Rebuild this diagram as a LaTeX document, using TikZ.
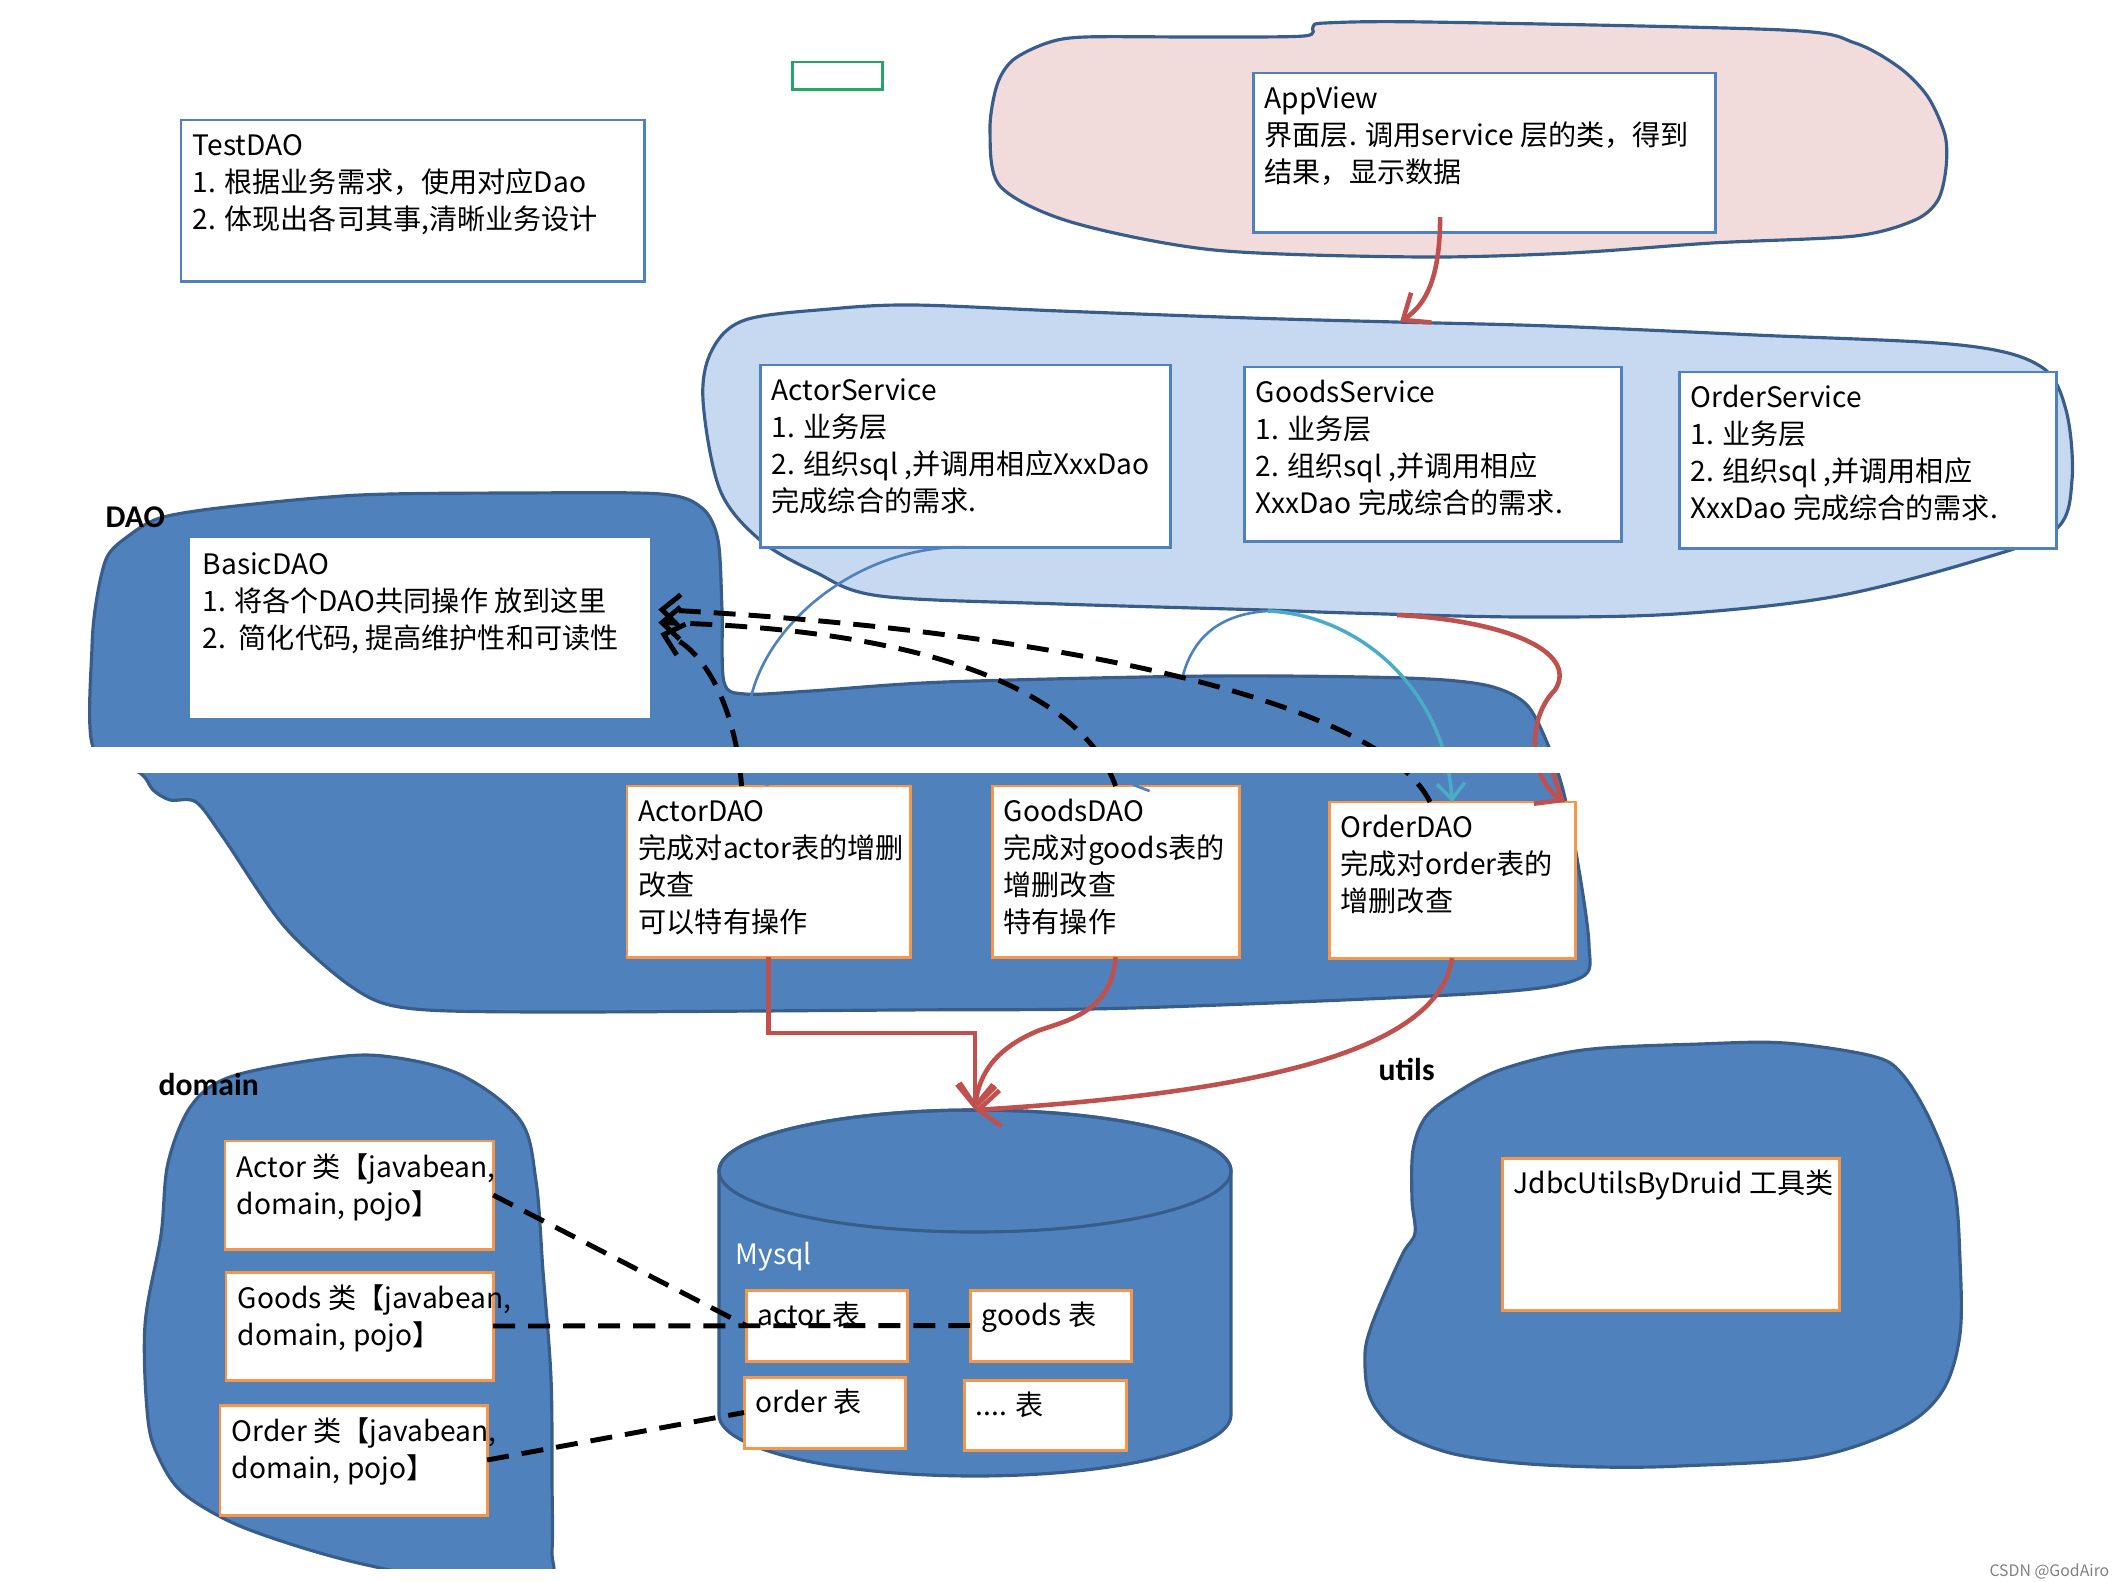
\documentclass[tikz,border=0pt]{standalone}
\usepackage{fontspec}
\setmainfont{Noto Sans CJK SC}
\newfontfamily\labelfont{Carlito}
\usepackage{tikz}
\usetikzlibrary{arrows.meta}
\definecolor{BlobLine}{HTML}{385D8A}
\definecolor{DaoFill}{HTML}{4F81BD}
\definecolor{SvcFill}{HTML}{C6D9F1}
\definecolor{ViewFill}{HTML}{F2DCDB}
\definecolor{BoxBlue}{HTML}{4F81BD}
\definecolor{BoxOrange}{HTML}{F79646}
\definecolor{LinkRed}{HTML}{C0504D}
\definecolor{LinkTeal}{HTML}{4BACC6}
\definecolor{MarkGreen}{HTML}{24A665}
\tikzset{
  bluebox/.style={draw=BoxBlue,line width=0.85pt,fill=white,anchor=north west,inner sep=0pt,outer sep=0pt},
  orangebox/.style={bluebox,draw=BoxOrange},
  whitebox/.style={bluebox,draw=white},
  boxtext/.style={anchor=north west,inner sep=0pt,align=left,font=\fontsize{8}{10.5}\selectfont},
  grouplabel/.style={anchor=west,inner sep=0pt,font=\labelfont\bfseries\fontsize{9}{11}\selectfont},
  blob/.style={draw=BlobLine,line width=0.9pt,fill=DaoFill},
  redarrow/.style={-{Straight Barb[length=2.2mm,width=3.6mm]},line width=1.3pt,draw=LinkRed},
  bluearc/.style={-{Straight Barb[length=1.2mm,width=2.2mm]},line width=0.75pt,draw=BoxBlue},
  tealarc/.style={-{Straight Barb[length=1.6mm,width=2.8mm]},line width=1pt,draw=LinkTeal},
  dashlink/.style={line width=1.4pt,dash pattern=on 0.22cm off 0.13cm},
  dasharrow/.style={dashlink,-{Straight Barb[length=1.8mm,width=3.2mm]}}
}

\begin{document}
\begin{tikzpicture}[x=0.01cm,y=-0.01cm]
  \useasboundingbox (0,0) rectangle (2117,1582);

  \draw[blob,fill=ViewFill] plot[smooth cycle,tension=0.5] coordinates {
    (997,85) (1013,60) (1047,43) (1085,37) (1200,37) (1304,36) (1313,27) (1325,23)
    (1427,22) (1783,30) (1855,43) (1900,68) (1928,97) (1945,135) (1946,168)
    (1938,200) (1915,220) (1855,236) (1712,243) (1570,253) (1420,257) (1214,250)
    (1071,222) (1000,186) (990,130)};
  \draw[blob,fill=SvcFill] plot[smooth cycle,tension=0.55] coordinates {
    (703,400) (712,350) (745,320) (830,309) (913,305) (1060,311) (1250,318) (1395,322)
    (1550,326) (1755,335) (1960,345) (2040,366) (2066,410) (2072,480) (2055,530)
    (1971,562) (1832,597) (1676,614) (1521,617) (1350,613) (1265,610) (1060,604)
    (880,596) (815,572) (760,540) (720,490)};
  \draw[blob] plot[smooth cycle,tension=0.5] coordinates {
    (160,518) (227,507) (360,495) (520,493) (661,494) (702,508) (718,540) (722,610)
    (724,682) (745,694) (811,691) (945,682) (1211,676) (1405,678) (1485,685)
    (1525,703) (1546,740) (1563,790) (1578,864) (1589,945) (1580,978) (1485,993)
    (1133,1008) (900,1010) (540,1012) (406,1008) (352,987) (284,926) (223,837)
    (196,802) (170,800) (153,790) (140,773) (93,747) (92,647) (97,597) (107,557)
    (127,537)};
  \begin{scope}
    \clip (0,0) rectangle (2117,1568);
    \draw[blob] plot[smooth cycle,tension=0.55] coordinates {
      (383,1056) (459,1074) (520,1120) (536,1181) (543,1271) (551,1378) (552,1480)
      (552,1550) (545,1578) (450,1580) (367,1565) (300,1547) (233,1523) (183,1493)
      (160,1460) (148,1420) (145,1325) (161,1235) (168,1163) (191,1106) (230,1077)
      (321,1059)};
  \end{scope}
  \draw[blob] plot[smooth cycle,tension=0.55] coordinates {
    (1583,1050) (1700,1044) (1785,1043) (1872,1056) (1902,1074) (1931,1122)
    (1954,1186) (1960,1260) (1960,1334) (1943,1390) (1902,1427) (1814,1457)
    (1680,1466) (1600,1467) (1517,1463) (1450,1453) (1400,1433) (1377,1410)
    (1367,1387) (1365,1353) (1370,1330) (1383,1297) (1403,1253) (1415,1233)
    (1412,1200) (1413,1150) (1425,1118) (1450,1097) (1500,1070)};
  \draw[blob] (719,1171) -- (719,1415)
    arc[start angle=180,end angle=0,x radius=256,y radius=61] -- (1231,1171)
    arc[start angle=0,end angle=-180,x radius=256,y radius=61] -- cycle;
  \draw[draw=BlobLine,line width=0.9pt] (975,1171) ellipse[x radius=256,y radius=61];
  \coordinate (dbtop) at (975,1110);

  \node[bluebox,draw=MarkGreen,fill=none,minimum width=0.9cm,minimum height=0.27cm] (greenmark) at (792,62) {};

  \node[bluebox,minimum width=4.63cm,minimum height=1.61cm] (testdao) at (181,120) {};
  \node[boxtext] (testdao-t) at ([shift={(11,9)}]testdao.north west)
    {\strut TestDAO\\1. 根据业务需求，使用对应Dao\\2. 体现出各司其事,清晰业务设计};

  \node[bluebox,minimum width=4.62cm,minimum height=1.59cm] (appview) at (1253,73) {};
  \node[boxtext] (appview-t) at ([shift={(11,9)}]appview.north west)
    {\strut AppView\\界面层. 调用service 层的类，得到\\结果，显示数据};

  \node[bluebox,minimum width=4.10cm,minimum height=1.82cm] (actorsvc) at (760,365) {};
  \node[boxtext] (actorsvc-t) at ([shift={(11,9)}]actorsvc.north west)
    {\strut ActorService\\1. 业务层\\2. 组织sql ,并调用相应XxxDao\\完成综合的需求.};
  \node[bluebox,minimum width=3.77cm,minimum height=1.74cm] (goodssvc) at (1244,367) {};
  \node[boxtext] (goodssvc-t) at ([shift={(11,9)}]goodssvc.north west)
    {\strut GoodsService\\1. 业务层\\2. 组织sql ,并调用相应\\XxxDao 完成综合的需求.};
  \node[bluebox,minimum width=3.77cm,minimum height=1.76cm] (ordersvc) at (1679,372) {};
  \node[boxtext] (ordersvc-t) at ([shift={(11,9)}]ordersvc.north west)
    {\strut OrderService\\1. 业务层\\2. 组织sql ,并调用相应\\XxxDao 完成综合的需求.};

  \node[whitebox,minimum width=4.57cm,minimum height=1.77cm] (basicdao) at (191,539) {};
  \node[boxtext] (basicdao-t) at ([shift={(11,9)}]basicdao.north west)
    {\strut BasicDAO\\1. 将各个DAO共同操作 放到这里\\2.\ \ 简化代码, 提高维护性和可读性};

  \node[orangebox,minimum width=2.83cm,minimum height=1.71cm] (actordao) at (627,786) {};
  \node[boxtext] (actordao-t) at ([shift={(11,9)}]actordao.north west)
    {\strut ActorDAO\\完成对actor表的增删\\改查\\可以特有操作};
  \node[orangebox,minimum width=2.47cm,minimum height=1.71cm] (goodsdao) at (992,786) {};
  \node[boxtext] (goodsdao-t) at ([shift={(11,9)}]goodsdao.north west)
    {\strut GoodsDAO\\完成对goods表的\\增删改查\\特有操作};
  \node[orangebox,minimum width=2.46cm,minimum height=1.56cm] (orderdao) at (1329,802) {};
  \node[boxtext] (orderdao-t) at ([shift={(11,9)}]orderdao.north west)
    {\strut OrderDAO\\完成对order表的\\增删改查};

  \coordinate (svctop) at (1400,322);
  \coordinate (svcfork) at (1268,611);
  \coordinate (svcred) at (1397,615);
  \draw[redarrow] ([xshift=-0.44cm,yshift=0.15cm]appview.south) .. controls (1440,280) and (1425,305) .. (svctop);
  \draw[bluearc] (actorsvc.south) .. controls (820,545) and (700,690) .. (actordao.north);
  \draw[bluearc] (svcfork) .. controls (1200,615) and (1180,660) .. (1178,710)
    .. controls (1176,750) and (1160,775) .. ([xshift=0.17cm]goodsdao.north);
  \draw[tealarc] (svcfork) .. controls (1360,615) and (1445,690) .. (orderdao.north);
  \draw[redarrow] (svcred) .. controls (1500,620) and (1580,650) .. (1555,690)
    .. controls (1525,720) and (1530,780) .. ([xshift=-0.1cm]orderdao.north east);
  \draw[dasharrow] ([xshift=-0.27cm]actordao.north) .. controls (735,700) and (700,645) .. ([xshift=0.12cm,yshift=-0.06cm]basicdao.east);
  \draw[dasharrow] (goodsdao.north) .. controls (1085,700) and (950,630) .. ([xshift=0.1cm,yshift=0.05cm]basicdao.east);
  \draw[dasharrow] ([xshift=-0.22cm]orderdao.north) .. controls (1380,700) and (1050,630) .. ([xshift=0.1cm,yshift=0.18cm]basicdao.east);

  \fill[white] (0,747) rectangle (2117,773);

  \node[orangebox,minimum width=2.68cm,minimum height=1.08cm] (actorcls) at (225,1141) {};
  \node[boxtext] (actorcls-t) at ([shift={(11,10)}]actorcls.north west)
    {\strut Actor 类【javabean,\\domain, pojo】};
  \node[orangebox,minimum width=2.67cm,minimum height=1.08cm] (goodscls) at (226,1272) {};
  \node[boxtext] (goodscls-t) at ([shift={(11,10)}]goodscls.north west)
    {\strut Goods 类【javabean,\\domain, pojo】};
  \node[orangebox,minimum width=2.67cm,minimum height=1.10cm] (ordercls) at (220,1405) {};
  \node[boxtext] (ordercls-t) at ([shift={(11,10)}]ordercls.north west)
    {\strut Order 类【javabean,\\domain, pojo】};

  \node[orangebox,minimum width=1.61cm,minimum height=0.71cm] (actortbl) at (746,1290) {};
  \node[boxtext] (actortbl-t) at ([shift={(11,9)}]actortbl.north west) {\strut actor 表};
  \node[orangebox,minimum width=1.61cm,minimum height=0.71cm] (goodstbl) at (970,1290) {};
  \node[boxtext] (goodstbl-t) at ([shift={(11,9)}]goodstbl.north west) {\strut goods 表};
  \node[orangebox,minimum width=1.61cm,minimum height=0.71cm] (ordertbl) at (744,1377) {};
  \node[boxtext] (ordertbl-t) at ([shift={(11,9)}]ordertbl.north west) {\strut order 表};
  \node[orangebox,minimum width=1.62cm,minimum height=0.70cm] (moretbl) at (964,1380) {};
  \node[boxtext] (moretbl-t) at ([shift={(11,9)}]moretbl.north west) {\strut .... 表};

  \node[orangebox,minimum width=3.37cm,minimum height=1.52cm] (jdbc) at (1502,1158) {};
  \node[boxtext] (jdbc-t) at ([shift={(11,9)}]jdbc.north west) {\strut JdbcUtilsByDruid 工具类};

  \draw[dashlink] (actorcls.east) -- (actortbl.west);
  \draw[dashlink] (goodscls.east) -- (goodstbl.west);
  \draw[dashlink] (ordercls.east) -- (ordertbl.west);

  \draw[redarrow] (actordao.south) -- ++(0,76) -| (dbtop);
  \draw[redarrow] (goodsdao.south) .. controls (1112,1010) and (1070,1020) .. (1040,1030)
    .. controls (990,1050) and (978,1080) .. (dbtop);
  \draw[redarrow] (orderdao.south) .. controls (1440,1040) and (1300,1090) .. (dbtop);

  \node[grouplabel] (daolabel) at (105,517) {DAO};
  \node[grouplabel] (domainlabel) at (158,1085) {domain};
  \node[grouplabel] (utilslabel) at (1378,1069) {utils};
  \node[boxtext,anchor=west,text=white] (mysqllabel) at (735,1257) {Mysql};
  \node[anchor=east,inner sep=0pt,text=gray,font=\fontsize{4.5}{5}\selectfont] (csdnmark) at (2110,1572) {CSDN @GodAiro};
\end{tikzpicture}
\end{document}
